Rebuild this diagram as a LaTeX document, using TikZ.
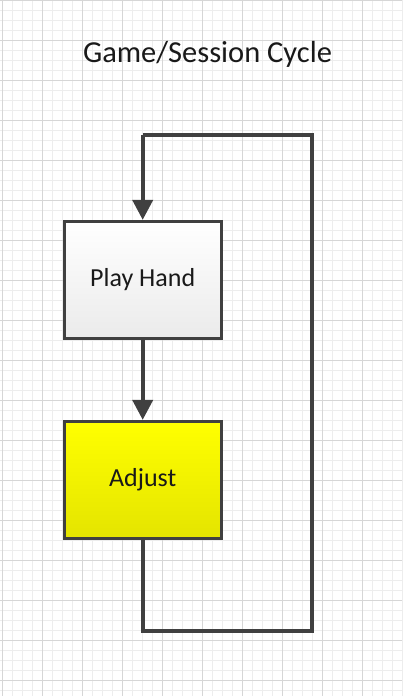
\documentclass[tikz,border=0pt]{standalone}
\usepackage{fontspec}
\setmainfont{Carlito}
\usetikzlibrary{calc}
\usetikzlibrary{arrows.meta}
\definecolor{linegray}{HTML}{404040}
\definecolor{gridminor}{HTML}{EDEDED}
\definecolor{gridmajor}{HTML}{D6D6D6}
\tikzset{
  stepbox/.style={draw=linegray, line width=3.3pt, minimum width=157pt, minimum height=117pt,
    font=\fontsize{26}{30}\selectfont, text=black!90},
  flow/.style={draw=linegray, line width=4pt, line join=miter,
    -{Triangle[width=20pt,length=20pt]}},
  loopline/.style={draw=linegray, line width=4pt, line join=miter}
}
\begin{document}
\begin{tikzpicture}[x=1pt,y=-1pt]
  \useasboundingbox (0,0) rectangle (402,696);
  \fill[white] (0,0) rectangle (402,696);

  % Quadrillage
  \foreach \i in {0,...,40} {
    \draw[gridminor, line width=0.6pt] ({2.5+10*\i},0) -- ({2.5+10*\i},696);
  }
  \foreach \j in {0,...,69} {
    \draw[gridminor, line width=0.6pt] (0,{0.7+10*\j}) -- (402,{0.7+10*\j});
  }
  \foreach \i in {0,...,9} {
    \draw[gridmajor, line width=0.6pt] ({2.5+40*\i},0) -- ({2.5+40*\i},696);
  }
  \foreach \j in {0,...,17} {
    \draw[gridmajor, line width=0.6pt] (0,{0.7+40*\j}) -- (402,{0.7+40*\j});
  }

  % Titre
  \node[font=\fontsize{30.5}{36}\selectfont, text=black!90, anchor=base] (title) at (207.5,62.7) {Game/Session Cycle};

  % Blocs
  \node[stepbox, top color=white, bottom color=black!8] (play) at (142.7,280) {Play Hand};
  \node[stepbox, top color=yellow, bottom color={rgb,255:red,228;green,228;blue,0}] (adjust) at (142.7,480) {Adjust};

  % Coins de la boucle
  \coordinate (loopBot) at (312.3,630.7);
  \coordinate (loopTop) at (312.3,135);

  % Fleches
  \draw[flow] (play.south) -- (adjust.north);
  \draw[loopline] (adjust.south) |- (loopBot) -- (loopTop) -- (loopTop -| play.north);
  \draw[flow] (loopTop -| play.north) -- (play.north);
\end{tikzpicture}
\end{document}
